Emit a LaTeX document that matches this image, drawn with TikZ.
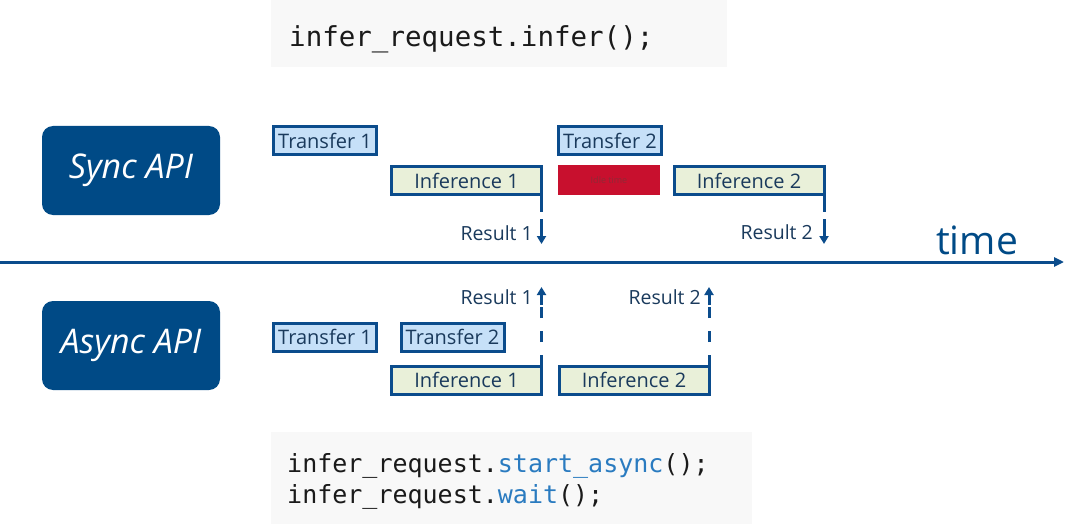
\documentclass[tikz,border=0pt]{standalone}
\usepackage{fontspec}
\setmainfont{Open Sans}
\newfontfamily\codefont{DejaVu Sans Mono}
\usetikzlibrary{arrows.meta}
\definecolor{navy}{HTML}{004A86}
\definecolor{boxline}{HTML}{0B4C8C}
\definecolor{xferfill}{HTML}{C6E0F8}
\definecolor{inffill}{HTML}{E9F0D9}
\definecolor{idlered}{HTML}{C8102E}
\definecolor{idletxt}{HTML}{8E2A36}
\definecolor{txt}{HTML}{1A3A5C}
\definecolor{codebg}{HTML}{F8F8F8}
\definecolor{codeblue}{HTML}{2A7BC0}
\definecolor{codetxt}{HTML}{1A1A1A}
\tikzset{
  bar/.style={draw=boxline, line width=3pt, inner sep=0pt, outer sep=0pt, minimum height=28pt, text=txt, font=\fontsize{20}{22}\selectfont},
  xfer/.style={bar, fill=xferfill, minimum width=103pt},
  inf/.style={bar, fill=inffill, minimum width=150pt},
  idle/.style={fill=idlered, draw=none, minimum width=102pt, minimum height=30pt, inner sep=0pt, text=idletxt, font=\fontsize{9}{10}\selectfont},
  api/.style={rounded corners=11pt, fill=navy, minimum width=178pt, minimum height=89pt, text=white, font=\fontsize{34}{38}\selectfont\itshape},
  res/.style={anchor=east, text=txt, font=\fontsize{19.5}{22}\selectfont, inner sep=0pt},
  conn/.style={draw=boxline, line width=3pt},
  tip/.style={conn, -{Triangle[length=8pt,width=9pt]}},
  codebox/.style={fill=codebg, draw=none, anchor=north west, inner sep=0pt},
  code/.style={anchor=base west, inner sep=0pt, text=codetxt},
}
\begin{document}
\begin{tikzpicture}[x=1pt,y=-1pt]
\useasboundingbox (0,0) rectangle (1074,524);
% code boxes
\node[codebox, minimum width=456pt, minimum height=67pt] (code1) at (271,0) {};
\node[code, font=\codefont\fontsize{27.5}{30}\selectfont] (code1t) at (289,47) {infer\_request.infer();};
\node[codebox, minimum width=481pt, minimum height=92pt] (code2) at (271,432) {};
\node[code, font=\codefont\fontsize{25}{30}\selectfont] (code2a) at (287,472) {infer\_request.\textcolor{codeblue}{start\_async}();};
\node[code, font=\codefont\fontsize{25}{30}\selectfont] (code2b) at (287,503) {infer\_request.\textcolor{codeblue}{wait}();};
% API boxes
\node[api] (sync) at (131,170.5) {Sync API};
\node[api] (async) at (131,345.5) {Async API};
% time axis
\coordinate (t0) at (0,262);
\coordinate (t1) at (1064,262);
\draw[conn, -{Triangle[length=10pt,width=9pt]}] (t0) -- (t1);
\node[text=navy, font=\fontsize{39}{44}\selectfont, inner sep=0pt] (time) at (977,240) {time};
% sync row
\node[xfer] (st1) at (325,140.5) {Transfer 1};
\node[inf] (si1) at (466.5,180.5) {Inference 1};
\node[xfer] (st2) at (610,140.5) {Transfer 2};
\node[idle] (idle) at (609,180) {Idle time};
\node[inf] (si2) at (749,180.5) {Inference 2};
\coordinate (sr1a) at (541.5,212);
\coordinate (sr1b) at (541.5,219);
\coordinate (sr1c) at (541.5,244);
\draw[conn] (si1.south east) -- (sr1a);
\draw[tip] (sr1b) -- (sr1c);
\node[res] (sres1) at (533,233) {Result 1};
\coordinate (sr2a) at (824,212);
\coordinate (sr2b) at (824,219);
\coordinate (sr2c) at (824,244);
\draw[conn] (si2.south east) -- (sr2a);
\draw[tip] (sr2b) -- (sr2c);
\node[res] (sres2) at (813,232) {Result 2};
% async row
\node[xfer] (at1) at (325,337) {Transfer 1};
\node[xfer] (at2) at (452.5,337) {Transfer 2};
\node[inf] (ai1) at (466.5,380) {Inference 1};
\node[inf] (ai2) at (634,380) {Inference 2};
\coordinate (ar1a) at (541.5,305);
\coordinate (ar1b) at (541.5,287);
\draw[conn, dash pattern=on 11pt off 13pt] (ai1.north east) -- (ar1a);
\draw[tip] (ar1a) -- (ar1b);
\node[res] (ares1) at (533,297) {Result 1};
\coordinate (ar2a) at (709,305);
\coordinate (ar2b) at (709,287);
\draw[conn, dash pattern=on 11pt off 13pt] (ai2.north east) -- (ar2a);
\draw[tip] (ar2a) -- (ar2b);
\node[res] (ares2) at (701,297) {Result 2};
\end{tikzpicture}
\end{document}
